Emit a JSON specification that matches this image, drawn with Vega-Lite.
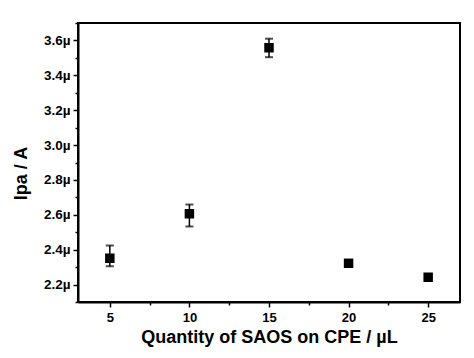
{
  "$schema": "https://vega.github.io/schema/vega-lite/v6.json",
  "autosize": {"type": "none"},
  "width": 382,
  "height": 279,
  "padding": {"left": 78, "top": 23, "right": 14, "bottom": 56},
  "background": "white",
  "config": {
    "view": {"stroke": "black", "strokeWidth": 2},
    "axis": {
      "domainColor": "black", "domainWidth": 2, "tickColor": "black", "tickWidth": 1.5,
      "grid": false, "labelFont": "Liberation Sans", "labelFontWeight": "bold", "labelFontSize": 13,
      "labelColor": "black", "titleFont": "Liberation Sans", "titleFontWeight": "bold",
      "titleFontSize": 18, "titleColor": "black"
    }
  },
  "data": {"values": [
    {"q": 5, "ipa": 2.351, "lo": 2.305, "hi": 2.424},
    {"q": 10, "ipa": 2.606, "lo": 2.533, "hi": 2.659},
    {"q": 15, "ipa": 3.558, "lo": 3.504, "hi": 3.61},
    {"q": 20, "ipa": 2.322, "lo": null, "hi": null},
    {"q": 25, "ipa": 2.242, "lo": null, "hi": null}
  ]},
  "layer": [
    {
      "mark": {"type": "point", "opacity": 0},
      "encoding": {
        "x": {"field": "q", "type": "quantitative", "scale": {"domain": [3, 27], "nice": false, "zero": false},
          "axis": {"values": [7.5, 12.5, 17.5, 22.5], "labels": false, "title": null, "tickSize": 3, "domain": false, "orient": "bottom"}},
        "y": {"field": "ipa", "type": "quantitative", "scale": {"domain": [2.1, 3.7], "nice": false, "zero": false},
          "axis": {"values": [2.1, 2.3, 2.5, 2.7, 2.9, 3.1, 3.3, 3.5, 3.7], "labels": false, "title": null, "tickSize": 3, "domain": false, "orient": "left"}}
      }
    },
    {
      "transform": [{"filter": "datum.lo != null"}],
      "mark": {"type": "rule", "color": "black", "strokeWidth": 1.5},
      "encoding": {
        "x": {"field": "q", "type": "quantitative", "axis": null},
        "y": {"field": "lo", "type": "quantitative", "axis": null},
        "y2": {"field": "hi"}
      }
    },
    {
      "transform": [{"filter": "datum.lo != null"}],
      "mark": {"type": "tick", "color": "black", "orient": "horizontal", "size": 8, "thickness": 2},
      "encoding": {
        "x": {"field": "q", "type": "quantitative", "axis": null},
        "y": {"field": "lo", "type": "quantitative", "axis": null}
      }
    },
    {
      "transform": [{"filter": "datum.lo != null"}],
      "mark": {"type": "tick", "color": "black", "orient": "horizontal", "size": 8, "thickness": 2},
      "encoding": {
        "x": {"field": "q", "type": "quantitative", "axis": null},
        "y": {"field": "hi", "type": "quantitative", "axis": null}
      }
    },
    {
      "mark": {"type": "point", "shape": "square", "filled": true, "color": "black", "opacity": 1, "size": 90},
      "encoding": {
        "x": {"field": "q", "type": "quantitative",
          "axis": {"values": [5, 10, 15, 20, 25], "tickSize": 5, "labelPadding": 4, "titlePadding": 4, "title": "Quantity of SAOS on CPE / µL", "orient": "bottom"}},
        "y": {"field": "ipa", "type": "quantitative",
          "axis": {"values": [2.2, 2.4, 2.6, 2.8, 3.0, 3.2, 3.4, 3.6], "tickSize": 5, "labelPadding": 3, "labelFontSize": 13.5, "labelExpr": "format(datum.value, '.1f') + 'µ'", "title": "Ipa / A", "titlePadding": 13, "titleY": 150, "orient": "left"}}
      }
    }
  ],
  "resolve": {"axis": {"x": "independent", "y": "independent"}}
}
